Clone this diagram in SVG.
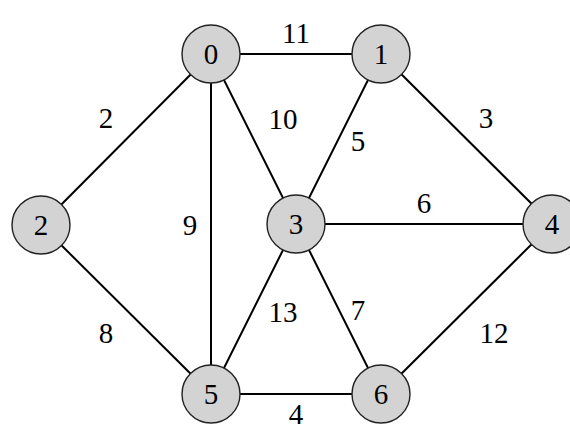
<svg xmlns="http://www.w3.org/2000/svg" width="570" height="446" viewBox="0 0 570 446" font-family="Liberation Serif, DejaVu Serif, serif">
<style>
.e{stroke:#000;stroke-width:2;fill:none}
.n circle{fill:#d3d3d3;stroke:#222;stroke-width:1.4}
text{font-size:29px;fill:#000;text-anchor:middle}
</style>
<rect width="570" height="446" fill="#fff"/>
<g id="edges">
<line class="e" x1="211" y1="54" x2="381" y2="54"/>
<line class="e" x1="211" y1="54" x2="41" y2="225"/>
<line class="e" x1="211" y1="54" x2="296" y2="224"/>
<line class="e" x1="211" y1="54" x2="211" y2="394"/>
<line class="e" x1="381" y1="54" x2="296" y2="224"/>
<line class="e" x1="381" y1="54" x2="552" y2="224"/>
<line class="e" x1="41" y1="225" x2="211" y2="394"/>
<line class="e" x1="296" y1="224" x2="552" y2="224"/>
<line class="e" x1="296" y1="224" x2="211" y2="394"/>
<line class="e" x1="296" y1="224" x2="381" y2="394"/>
<line class="e" x1="552" y1="224" x2="381" y2="394"/>
<line class="e" x1="211" y1="394" x2="381" y2="394"/>
</g>
<g id="labels">
<text x="296" y="43">11</text>
<text x="106" y="128">2</text>
<text x="283" y="129">10</text>
<text x="358" y="151">5</text>
<text x="486" y="128">3</text>
<text x="190" y="235">9</text>
<text x="424" y="213">6</text>
<text x="283" y="322">13</text>
<text x="358" y="320">7</text>
<text x="106" y="343">8</text>
<text x="494" y="343">12</text>
<text x="296" y="424">4</text>
</g>
<g id="node0" class="n"><circle cx="211" cy="54" r="29"/><text x="211" y="64">0</text></g>
<g id="node1" class="n"><circle cx="381" cy="54" r="29"/><text x="381" y="64">1</text></g>
<g id="node2" class="n"><circle cx="41" cy="225" r="29"/><text x="41" y="235">2</text></g>
<g id="node3" class="n"><circle cx="296" cy="224" r="29"/><text x="296" y="234">3</text></g>
<g id="node4" class="n"><circle cx="552" cy="224" r="29"/><text x="552" y="234">4</text></g>
<g id="node5" class="n"><circle cx="211" cy="394" r="29"/><text x="211" y="404">5</text></g>
<g id="node6" class="n"><circle cx="381" cy="394" r="29"/><text x="381" y="404">6</text></g>
</svg>
